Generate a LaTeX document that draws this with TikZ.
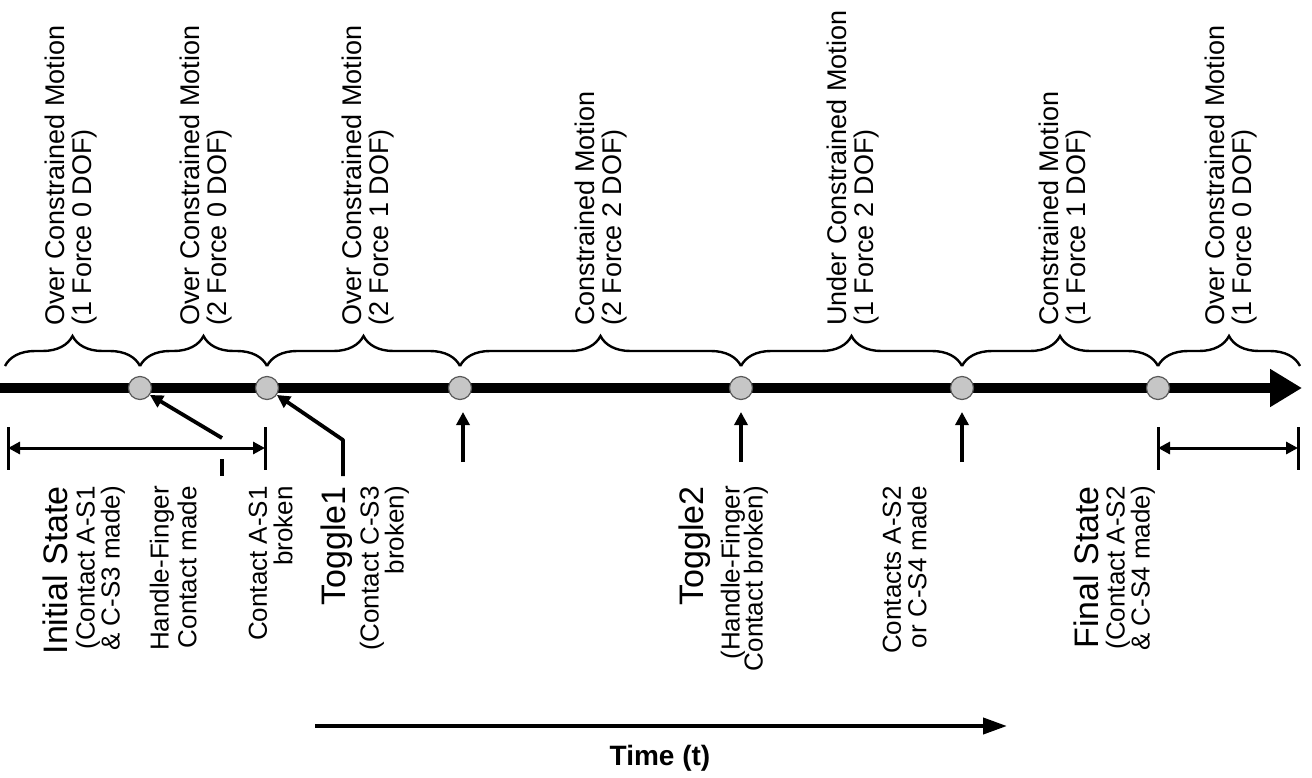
\documentclass[tikz,border=0pt]{standalone}
\usepackage{fontspec}
\setmainfont{Liberation Sans}
\usetikzlibrary{decorations.pathreplacing,arrows.meta}
\begin{document}
\begin{tikzpicture}[x=1pt,y=-1pt,
  lab/.style={font=\fontsize{26}{26}\selectfont, inner sep=0pt, rotate=90},
  big/.style={font=\fontsize{34}{34}\selectfont, inner sep=0pt, rotate=90},
  toplab/.style={font=\fontsize{27}{27}\selectfont, inner sep=0pt, rotate=90, align=left, anchor=south west},
  ev/.style={circle, fill=gray!45, draw=gray!70!black, line width=1.2pt, minimum size=23pt, inner sep=0pt},
  br/.style={decorate, decoration={brace, amplitude=30pt}, line width=2.4pt},
  arr/.style={line width=3.8pt, -{Triangle[length=13pt,width=13pt]}},
  darr/.style={line width=3pt, {Triangle[length=12pt,width=12pt]}-{Triangle[length=12pt,width=12pt]}},
  bar/.style={line width=3pt}]
\useasboundingbox (0,0) rectangle (1312,777);
% timeline
\coordinate (t0) at (0,388);
\coordinate (t1) at (1302,388);
\draw[line width=10pt, -{Triangle[length=32pt,width=36pt]}] (t0) -- (t1);
\node[ev] (e1) at (140,388) {};
\node[ev] (e2) at (267,388) {};
\node[ev] (e3) at (460,388) {};
\node[ev] (e4) at (741,388) {};
\node[ev] (e5) at (962,388) {};
\node[ev] (e6) at (1158,388) {};
% braces
\coordinate (b0) at (5,366);
\coordinate (b1) at (140,366);
\coordinate (b2) at (267,366);
\coordinate (b3) at (460,366);
\coordinate (b4) at (741,366);
\coordinate (b5) at (962,366);
\coordinate (b6) at (1158,366);
\coordinate (b7) at (1300,366);
\draw[br] (b0) -- (b1);
\draw[br] (b1) -- (b2);
\draw[br] (b2) -- (b3);
\draw[br] (b3) -- (b4);
\draw[br] (b4) -- (b5);
\draw[br] (b5) -- (b6);
\draw[br] (b6) -- (b7);
% top labels
\node[toplab] (s1) at (97,326) {Over Constrained Motion\\(1 Force 0 DOF)};
\node[toplab] (s2) at (232,326) {Over Constrained Motion\\(2 Force 0 DOF)};
\node[toplab] (s3) at (394,326) {Over Constrained Motion\\(2 Force 1 DOF)};
\node[toplab] (s4) at (627,326) {Constrained Motion\\(2 Force 2 DOF)};
\node[toplab] (s5) at (879,326) {Under Constrained Motion\\(1 Force 2 DOF)};
\node[toplab] (s6) at (1091,326) {Constrained Motion\\(1 Force 1 DOF)};
\node[toplab] (s7) at (1257,326) {Over Constrained Motion\\(1 Force 0 DOF)};
% initial state span
\coordinate (i0a) at (8,427); \coordinate (i0b) at (8,470);
\coordinate (i1a) at (265,427); \coordinate (i1b) at (265,470);
\draw[bar] (i0a) -- (i0b);
\draw[bar] (i1a) -- (i1b);
\coordinate (i0) at (8,448); \coordinate (i1) at (265,448);
\draw[darr] (i0) -- (i1);
% final state span
\coordinate (f0a) at (1158,427); \coordinate (f0b) at (1158,470);
\coordinate (f1a) at (1298,427); \coordinate (f1b) at (1298,470);
\draw[bar] (f0a) -- (f0b);
\draw[bar] (f1a) -- (f1b);
\coordinate (f0) at (1158,448); \coordinate (f1) at (1298,448);
\draw[darr] (f0) -- (f1);
% pointer arrows
\coordinate (h0) at (222,438);
\coordinate (h1) at (222,459); \coordinate (h2) at (222,476);
\draw[arr] (h0) -- (e1.-35);
\draw[line width=3.8pt] (h1) -- (h2);
\coordinate (c0) at (343,476); \coordinate (c1) at (343,440);
\draw[line width=3.8pt, -{Triangle[length=13pt,width=13pt]}, line join=round] (c0) -- (c1) -- (e2.-35);
\coordinate (u1) at (463,462); \coordinate (u1t) at (463,412);
\coordinate (u2) at (741,462); \coordinate (u2t) at (741,412);
\coordinate (u3) at (962,462); \coordinate (u3t) at (962,412);
\draw[arr] (u1) -- (u1t);
\draw[arr] (u2) -- (u2t);
\draw[arr] (u3) -- (u3t);
% bottom labels
\node[big, anchor=south east] (l1) at (68,486) {Initial State};
\node[lab, anchor=east] (l2) at (88,486) {(Contact A-S1};
\node[lab, anchor=east] (l3) at (113,486) {\& C-S3 made)};
\node[lab, anchor=east] (l4) at (162,486) {Handle-Finger};
\node[lab, anchor=east] (l5) at (187,486) {Contact made};
\node[lab, anchor=east] (l6) at (258,486) {Contact A-S1};
\node[lab, anchor=east] (l7) at (283,486) {broken};
\node[big, anchor=south east] (l8) at (353,486) {Toggle1};
\node[lab, anchor=east] (l9) at (372,486) {(Contact C-S3};
\node[lab, anchor=east] (l10) at (397,486) {broken)};
\node[big, anchor=south east] (l11) at (711,486) {Toggle2};
\node[lab, anchor=east] (l12) at (733,486) {(Handle-Finger};
\node[lab, anchor=east] (l13) at (756,486) {Contact broken)};
\node[lab, anchor=east] (l14) at (892,486) {Contacts A-S2};
\node[lab, anchor=east] (l15) at (917,486) {or C-S4 made};
\node[big, anchor=south east] (l16) at (1099,486) {Final State};
\node[lab, anchor=east] (l17) at (1118,486) {(Contact A-S2};
\node[lab, anchor=east] (l18) at (1143,486) {\& C-S4 made)};
% time arrow
\coordinate (ta) at (315,726); \coordinate (tb) at (1007,726);
\draw[line width=4pt, -{Triangle[length=24pt,width=16pt]}] (ta) -- (tb);
\node[font=\fontsize{28}{28}\selectfont\bfseries, inner sep=0pt] (tl) at (660,758) {Time (t)};
\end{tikzpicture}
\end{document}
